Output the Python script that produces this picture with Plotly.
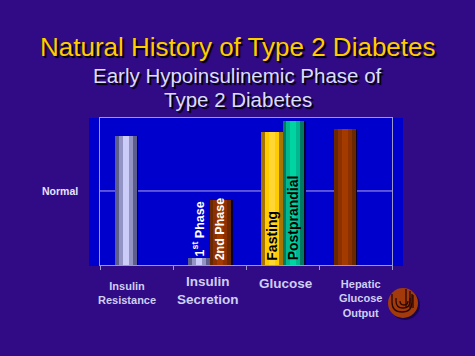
import plotly.graph_objects as go

# ---------------- data ----------------
categories = ["Insulin Resistance", "Insulin Secretion", "Glucose", "Hepatic Glucose Output"]
bar_labels = ["Insulin Resistance", "1st Phase", "2nd Phase", "Fasting", "Postprandial", "Hepatic Glucose Output"]
bar_category = [0, 1, 1, 2, 2, 3]
bar_slot = [0, 0, 1, 0, 1, 0]
bar_values = [174, 9, 88, 180, 195, 184]
normal_value = 100
normal_label = "Normal"
y_max = 198.6

# ---------------- styles ----------------
edge_colors = ["#5e5e8c", "#5e5e8c", "#6a2800", "#a87400", "#007a60", "#6a2800"]
mid_colors = ["#9494c4", "#9494c4", "#8c3000", "#ffcc00", "#00b890", "#8c3000"]
center_colors = ["#ccccf8", "#ccccf8", "#a33a00", "#ffd633", "#00d4a2", "#a33a00"]
bg = "#310b86"
plot_blue = "#0000cc"
frame = "#9a9ac8"

W, H = 475, 356
L, R, T, B = 100, 392, 118, 265


def px_x(px):
    return (px - L) / (R - L)


def px_y(py):
    return (B - py) / (B - T)


slot_offset = [0.355, 0.645]
xpos = [c + slot_offset[s] for c, s in zip(bar_category, bar_slot)]
bw = 0.29

fig = go.Figure()
# drop shadow
fig.add_trace(go.Bar(x=xpos, y=bar_values, width=bw, offset=-bw / 2 + 0.025,
                     marker=dict(color="#0a0030", line=dict(width=0)),
                     hoverinfo="skip", showlegend=False))
fig.add_trace(go.Bar(x=xpos, y=bar_values, width=bw,
                     marker=dict(color=edge_colors, line=dict(width=0)),
                     hoverinfo="skip", showlegend=False))
fig.add_trace(go.Bar(x=xpos, y=bar_values, width=0.19,
                     marker=dict(color=mid_colors, line=dict(width=0)),
                     hoverinfo="skip", showlegend=False))
fig.add_trace(go.Bar(x=xpos, y=bar_values, width=0.09,
                     marker=dict(color=center_colors, line=dict(width=0)),
                     hoverinfo="skip", showlegend=False))

shapes = []
shapes.append(dict(type="rect", xref="paper", yref="paper",
                   x0=px_x(89), x1=px_x(403), y0=px_y(266), y1=1,
                   fillcolor=plot_blue, line=dict(width=0), layer="below"))
shapes.append(dict(type="line", xref="x", yref="y", x0=0, x1=4,
                   y0=normal_value, y1=normal_value,
                   line=dict(color="#b4a4e8", width=1), layer="below"))
# logo
cx, cy, r = 403, 303, 15
shapes.append(dict(type="circle", xref="paper", yref="paper",
                   x0=px_x(cx - r + 2), x1=px_x(cx + r + 2), y0=px_y(cy + r + 2), y1=px_y(cy - r + 2),
                   fillcolor="#1a0650", line=dict(width=0)))
shapes.append(dict(type="circle", xref="paper", yref="paper",
                   x0=px_x(cx - r), x1=px_x(cx + r), y0=px_y(cy + r), y1=px_y(cy - r),
                   fillcolor="#a33a0c", line=dict(width=0)))


def upath(x0, x1, ytop, ybot):
    xm = (x0 + x1) / 2
    return (f"M {px_x(x0)},{px_y(ytop)} L {px_x(x0)},{px_y(ybot - (x1-x0)/2)} "
            f"Q {px_x(x0)},{px_y(ybot)} {px_x(xm)},{px_y(ybot)} "
            f"Q {px_x(x1)},{px_y(ybot)} {px_x(x1)},{px_y(ybot - (x1-x0)/2)} L {px_x(x1)},{px_y(ytop)}")


for (a, b_, yt, yb) in [(392, 412, 294, 312), (396, 410, 298, 308), (400, 408, 301, 305)]:
    shapes.append(dict(type="path", xref="paper", yref="paper", path=upath(a, b_, yt, yb),
                       line=dict(color="#2a0800", width=1.3)))
for xl, yt in [(406, 289), (410, 291), (413, 295)]:
    shapes.append(dict(type="line", xref="paper", yref="paper",
                       x0=px_x(xl), x1=px_x(xl), y0=px_y(yt), y1=px_y(308),
                       line=dict(color="#2a0800", width=1.3)))

annotations = []
shadow = "2px 2px 1px #000000"
annotations.append(dict(text="Natural History of Type 2 Diabetes", xref="paper", yref="paper",
                        x=px_x(237), y=px_y(47), showarrow=False, xanchor="center", yanchor="middle",
                        font=dict(family="Liberation Sans, Arial", size=26, color="#ffcc00", shadow=shadow)))
annotations.append(dict(text="Early Hypoinsulinemic Phase of", xref="paper", yref="paper",
                        x=px_x(237), y=px_y(76), showarrow=False, xanchor="center", yanchor="middle",
                        font=dict(family="Liberation Sans, Arial", size=20.5, color="#dcdcff", shadow=shadow)))
annotations.append(dict(text="Type 2 Diabetes", xref="paper", yref="paper",
                        x=px_x(238), y=px_y(99), showarrow=False, xanchor="center", yanchor="middle",
                        font=dict(family="Liberation Sans, Arial", size=20.5, color="#dcdcff", shadow=shadow)))

annotations.append(dict(text=f"<b>{normal_label}</b>", xref="paper", yref="y",
                        x=px_x(60), y=normal_value, showarrow=False, xanchor="center", yanchor="middle",
                        font=dict(family="Liberation Sans, Arial", size=10.5, color="#e4e4ff")))

cat_specs = [
    ("Insulin<br>Resistance", 127, 293, 11),
    ("Insulin<br>Secretion", 208, 290, 13.5),
    ("Glucose", 286, 283, 13.5),
    ("Hepatic<br>Glucose<br>Output", 360, 298, 11),
]
for name, (txt, xp, yp, fs) in zip(categories, cat_specs):
    annotations.append(dict(text=f"<b>{txt}</b>", xref="paper", yref="paper",
                            x=px_x(xp), y=px_y(yp), showarrow=False, xanchor="center", yanchor="middle",
                            font=dict(family="Liberation Sans, Arial", size=fs, color="#cfcff2")))

rot_specs = {
    "1st Phase": ("<b>1<sup>st</sup> Phase</b>", "#ffffff", 12.5, "above"),
    "2nd Phase": ("<b>2nd Phase</b>", "#ffffff", 12.5, "inside"),
    "Fasting": ("<b>Fasting</b>", "#000000", 14, "inside"),
    "Postprandial": ("<b>Postprandial</b>", "#000000", 14, "inside"),
}
for lab, x, v in zip(bar_labels, xpos, bar_values):
    if lab not in rot_specs:
        continue
    txt, col, fs, where = rot_specs[lab]
    y0 = v + 0.5 if where == "above" else 3
    annotations.append(dict(text=txt, xref="x", yref="y", x=x, y=y0, textangle=-90,
                            showarrow=False, xanchor="center", yanchor="bottom",
                            font=dict(family="Liberation Sans, Arial", size=fs, color=col)))

fig.update_layout(
    width=W, height=H,
    margin=dict(l=L, r=W - R, t=T, b=H - B, pad=0),
    paper_bgcolor=bg, plot_bgcolor=plot_blue,
    barmode="overlay", bargap=0,
    shapes=shapes, annotations=annotations,
    showlegend=False,
    xaxis=dict(range=[0, 4], showline=True, mirror=True, linecolor=frame, linewidth=1,
               ticks="outside", tickvals=[0, 1, 2, 3, 4], ticklen=4, tickcolor=frame,
               showticklabels=False, showgrid=False, zeroline=False, fixedrange=True),
    yaxis=dict(range=[0, y_max], showline=True, mirror=True, linecolor=frame, linewidth=1,
               ticks="", showticklabels=False, showgrid=False, zeroline=False, fixedrange=True),
)

fig.write_html(
    "out.html",
    config={"displayModeBar": False},
    post_script="document.body.style.margin='0';document.body.style.overflow='hidden';"
                "document.body.style.background='" + bg + "';",
)
